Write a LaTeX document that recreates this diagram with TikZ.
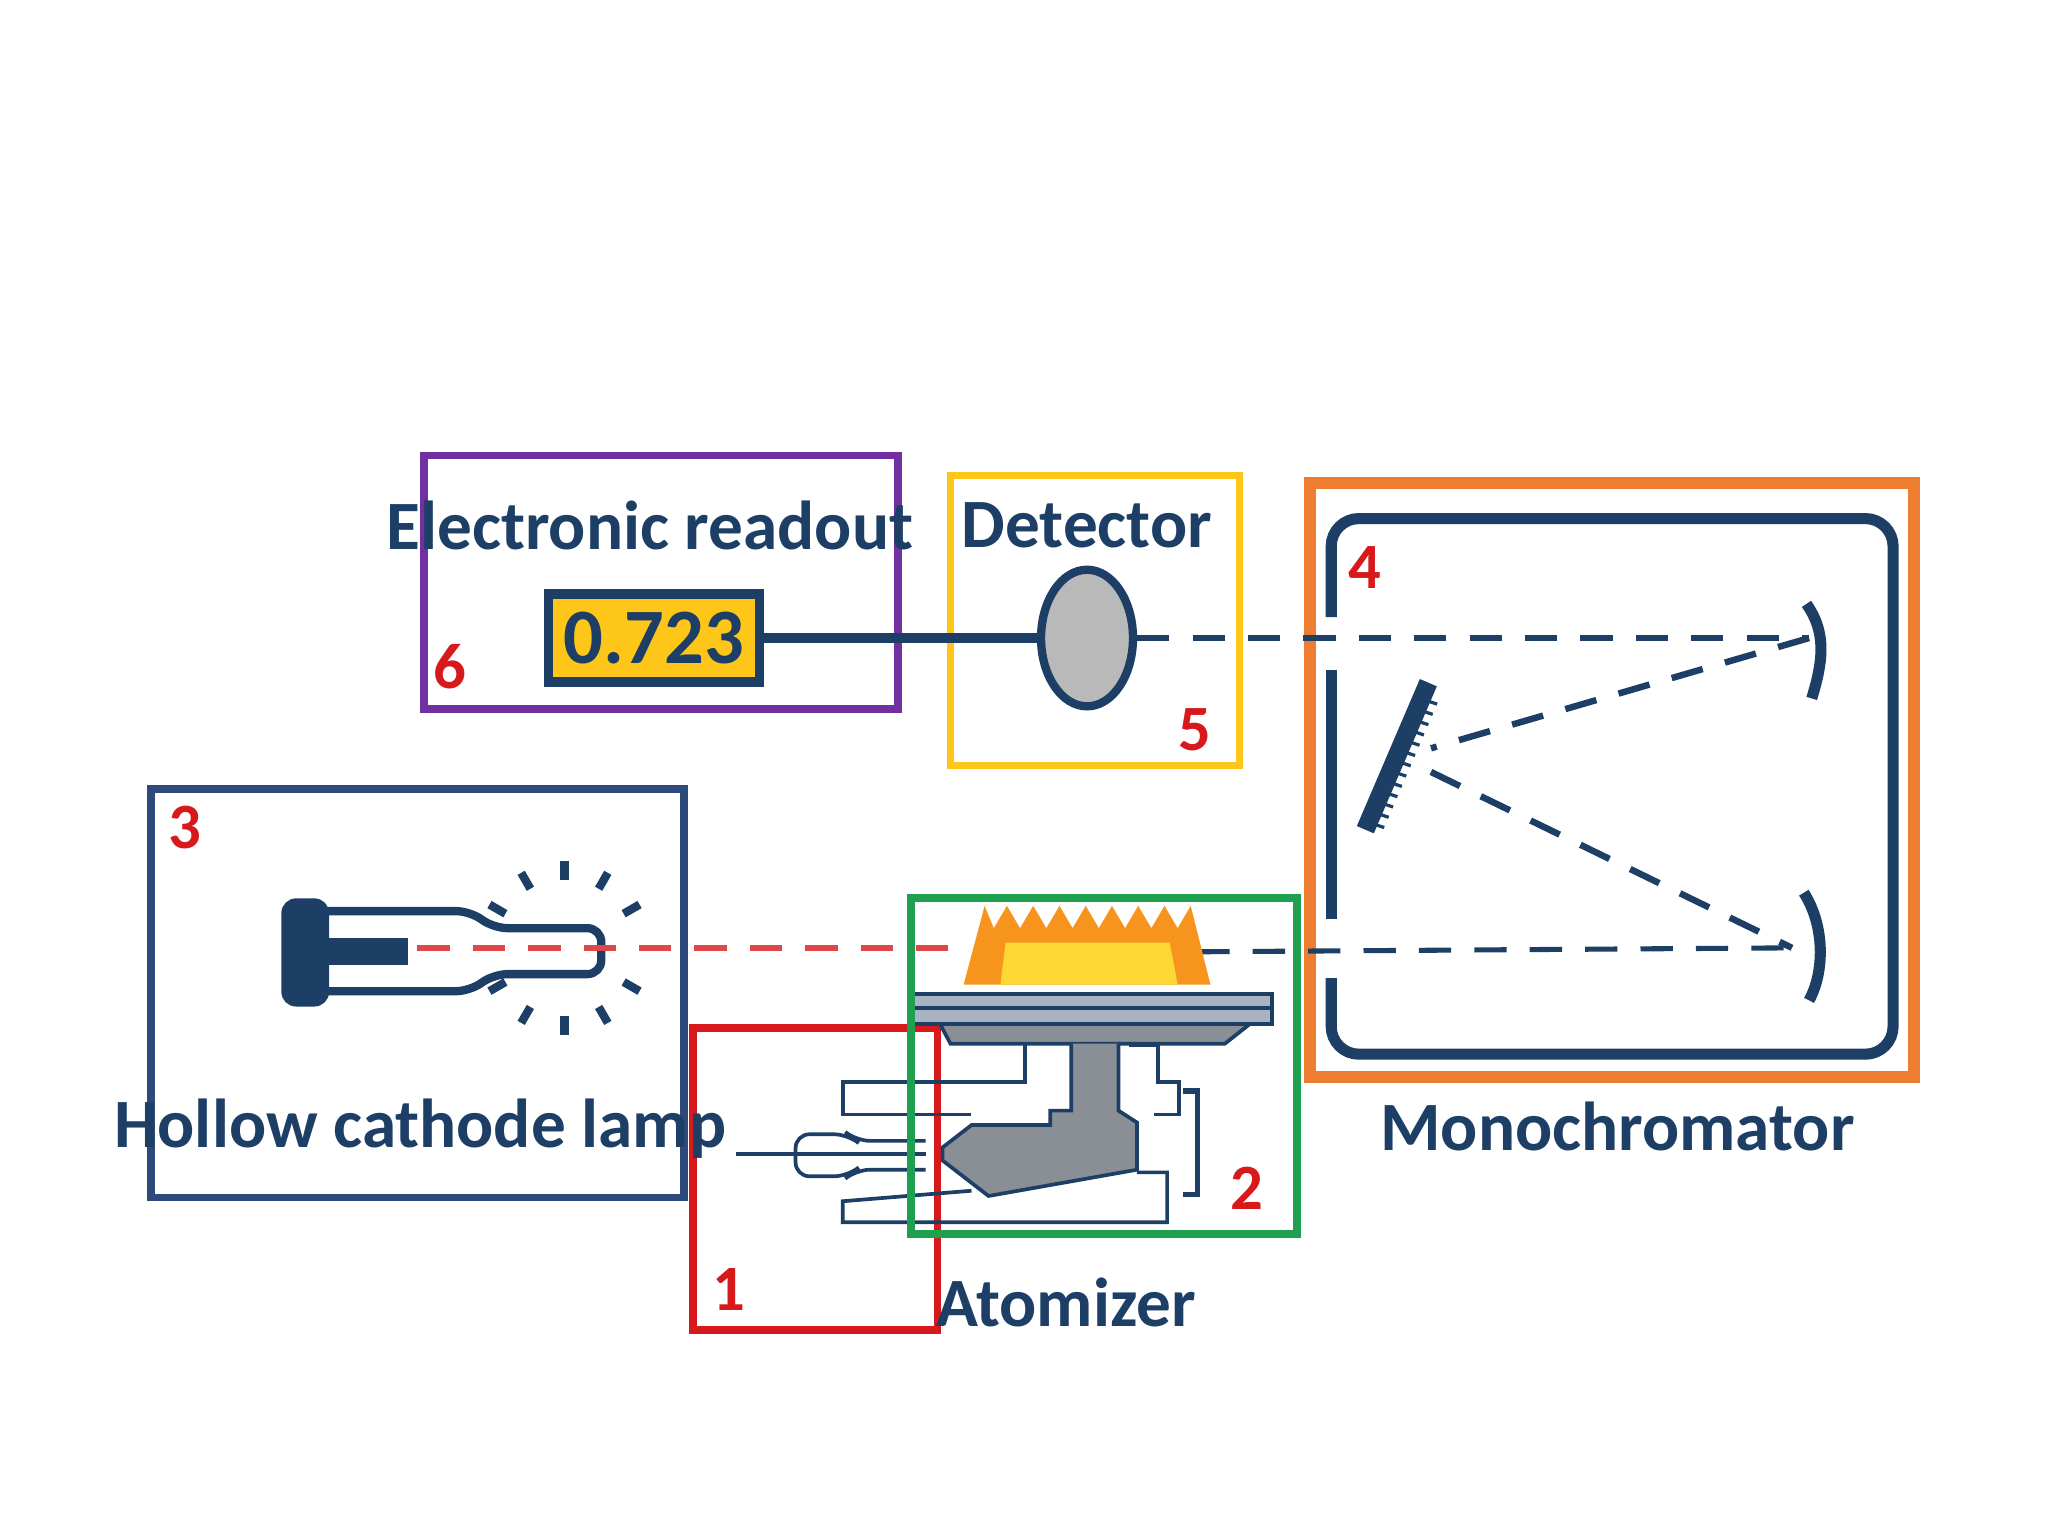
\documentclass[tikz,border=0pt]{standalone}
\usepackage{fontspec}
\setmainfont{Carlito}
\usetikzlibrary{positioning,arrows,shapes.geometric,calc}
\definecolor{navy}{HTML}{1D3F66}
\definecolor{boxblue}{HTML}{2E4A7A}
\definecolor{numred}{HTML}{D7191C}
\definecolor{purp}{HTML}{7030A0}
\definecolor{yel}{HTML}{FFC61A}
\definecolor{grn}{HTML}{1FA050}
\definecolor{orng}{HTML}{ED7D31}
\definecolor{flame}{HTML}{F7941D}
\definecolor{flamein}{HTML}{FDD835}
\definecolor{steel}{HTML}{8A8F96}
\definecolor{plate}{HTML}{A9B4C2}
\tikzset{
  frame/.style={draw=#1, line width=1.6pt},
  lbl/.style={text=navy, font=\fontsize{15}{17}\selectfont\bfseries},
  num/.style={text=numred, font=\fontsize{14}{16}\selectfont\bfseries},
  beam/.style={dashed, dash pattern=on 7pt off 5pt, line width=1.4pt, draw=navy},
  outl/.style={draw=navy, line width=0.8pt}
}
\begin{document}
\begin{tikzpicture}[x=0.01cm, y=-0.01cm]
          \useasboundingbox (0,0) rectangle (1560,1170);

          % boxes
          \draw[frame=purp] (323,347) rectangle (684,540);
          \draw[frame=yel] (724,362) rectangle (944,583);
          \draw[frame=orng, line width=2.6pt] (998,368) rectangle (1458,820);
          \draw[frame=boxblue] (115,601) rectangle (521,912);
          \draw[frame=numred] (528,783) rectangle (714,1013);

          % labels
          \draw (495,400) node[lbl] (readlbl) {Electronic readout};
          \draw (828,400) node[lbl] (detlbl) {Detector};
          \draw (320,860) node[lbl] (lamplbl) {Hollow cathode lamp};
          \draw (812,992) node[lbl] (atomlbl) {Atomizer};
          \draw (1232,858) node[lbl] (monolbl) {Monochromator};
          \draw (343,508) node[num] {6};
          \draw (910,556) node[num] {5};
          \draw (1040,432) node[num] {4};
          \draw (141,630) node[num] {3};
          \draw (950,905) node[num] {2};
          \draw (555,982) node[num] {1};

          % readout and detector
          \draw (498,486) node[draw=navy, line width=2pt, fill=yel, minimum width=1.4cm,
            minimum height=0.67cm, text=navy, font=\fontsize{17}{19}\selectfont\bfseries] (readout) {0.723};
          \draw (828,486) node[ellipse, draw=navy, line width=1.8pt, fill=gray!55,
            minimum width=0.7cm, minimum height=1.04cm] (det) {};
          \draw[navy, line width=2pt] (readout.east) -- (det.west);

          % monochromator
          \draw[navy, line width=2.4pt, rounded corners=6pt]
            (1014,470) -- (1014,395) -- (1442,395) -- (1442,803) -- (1014,803) -- (1014,745);
          \draw[navy, line width=2.4pt] (1014,510) -- (1014,700);
          \coordinate (mtop) at (1378,486);
          \coordinate (mbot) at (1365,722);
          \coordinate (grt) at (1090,570);
          \coordinate (grb) at (1090,588);
          \draw[navy, line width=2.4pt] (1376,460) .. controls (1390,480) and (1390,500) .. (1380,532);
          \draw[navy, line width=2.4pt] (1374,680) .. controls (1390,705) and (1390,740) .. (1378,762);
          \draw[navy, line width=4pt] (1040,632) -- (1088,520);
          \foreach \t in {0.05,0.12,...,0.95}
            \draw[navy, line width=0.7pt] ($(1040,632)!\t!(1088,520)$) -- ++(12,4);

          % beams
          \draw[beam] (det.east) -- (mtop);
          \draw[beam] (mtop) -- (grt);
          \draw[beam] (grb) -- (mbot);
          \coordinate (flameR) at (912,725);
          \draw[beam, line width=1.1pt] (flameR) -- (mbot);

          % lamp
          \draw[fill=navy, draw=navy, rounded corners=3pt] (215,685) rectangle (250,766);
          \draw[fill=navy, draw=navy] (248,715) rectangle (310,734);
          \draw[navy, line width=1.8pt, rounded corners=3pt]
            (250,694) -- (358,694) -- (376,707) -- (458,707) -- (458,742) -- (376,742) -- (358,755) -- (250,755);
          \foreach \a in {-90,-60,-30,30,60,90,120,150,210,240}
            \draw[navy, line width=1.8pt] ($(430,722)+(\a:52)$) -- ($(430,722)+(\a:66)$);
          \coordinate (lampout) at (318,722);
          \coordinate (flameL) at (738,722);
          \draw[beam, draw=numred!80, line width=1.2pt] (lampout) -- (flameL);

          % atomizer
          \fill[flame] (734,750) -- (750,690) -- (757,707) -- (767,690) -- (777,707) -- (787,690) -- (797,707)
            -- (807,690) -- (817,707) -- (827,690) -- (837,707) -- (847,690) -- (857,707) -- (867,690)
            -- (877,707) -- (887,690) -- (897,707) -- (907,690) -- (922,750) -- cycle;
          \fill[flamein] (762,750) -- (766,718) -- (891,718) -- (897,750) -- cycle;
          \draw[outl, fill=plate] (694,757) rectangle (969,780);
          \draw[outl] (694,768) -- (969,768);
          \draw[outl, fill=steel] (716,780) -- (952,780) -- (933,795) -- (724,795) -- cycle;
          \fill[steel] (816,795) rectangle (852,848);
          \draw[outl, fill=steel] (816,795) -- (816,846) -- (800,846) -- (800,857) -- (740,857) -- (718,874)
            -- (718,884) -- (753,911) -- (866,891) -- (866,855) -- (852,846) -- (852,795);
          \draw[outl] (781,796) -- (781,824) -- (642,824) -- (642,849) -- (740,849);
          \draw[outl] (740,907) -- (642,915) -- (642,931) -- (889,931) -- (889,893) -- (866,893);
          \draw[outl] (860,796) -- (882,796) -- (882,824) -- (898,824) -- (898,849) -- (879,849);
          \draw[outl, line width=1.2pt] (901,831) -- (912,831) -- (912,910) -- (901,910);
          \draw[outl] (561,879) -- (705,879);
          \draw[outl, rounded corners=3pt] (705,869) -- (652,869) -- (646,864) -- (606,864) -- (606,896)
            -- (646,896) -- (652,891) -- (705,891);
          \draw[frame=grn] (694,684) rectangle (988,940);
        \end{tikzpicture}
\end{document}
